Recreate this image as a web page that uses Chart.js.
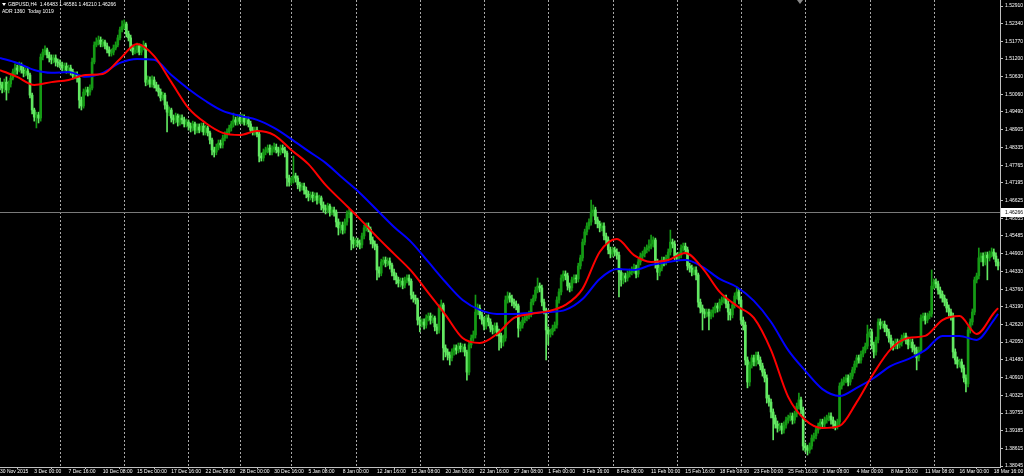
<!DOCTYPE html>
<html><head><meta charset="utf-8">
<script src="https://cdn.jsdelivr.net/npm/chart.js@4/dist/chart.umd.min.js"></script>
<style>
html,body{margin:0;padding:0;background:#000;overflow:hidden}
canvas{display:block}
</style></head><body>
<canvas id="c" width="1024" height="476"></canvas>
<script>
const symbolText = "GBPUSD,H4";
const headerOHLC = ["1.46483","1.46581","1.46210","1.46266"];
const adrText = "ADR 1360  Today 1019";
const lastPrice = 1.46266;

const timeLabels = ["30 Nov 2015","3 Dec 00:00","7 Dec 16:00","10 Dec 08:00","15 Dec 00:00","17 Dec 16:00","22 Dec 08:00","28 Dec 00:00","30 Dec 16:00","5 Jan 08:00","8 Jan 00:00","12 Jan 16:00","15 Jan 08:00","20 Jan 00:00","22 Jan 16:00","27 Jan 08:00","1 Feb 00:00","3 Feb 16:00","8 Feb 08:00","11 Feb 00:00","15 Feb 16:00","18 Feb 08:00","23 Feb 00:00","25 Feb 16:00","1 Mar 08:00","4 Mar 00:00","8 Mar 16:00","11 Mar 08:00","16 Mar 00:00","18 Mar 16:00"];
const timeTickBars = [0,16,32,48,64,80,96,112,128,144,160,176,192,208,224,240,256,272,288,304,320,336,352,368,384,400,416,432,448,464];
const weekStartBars = [28,58,88,112,136,166,196,226,256,286,316,346,376,406,436];
const priceTicks = [1.52910,1.52340,1.51770,1.51200,1.50630,1.50060,1.49490,1.48905,1.48335,1.47765,1.47195,1.46625,1.46055,1.45485,1.44900,1.44330,1.43760,1.43190,1.42620,1.42050,1.41480,1.40910,1.40325,1.39755,1.39185,1.38615,1.38045];

const opens = [
1.5045,1.5036,1.5026,1.5045,1.5020,1.5039,1.5058,1.5078,1.5091,1.5084,
1.5097,1.5084,1.5074,1.5081,1.5068,1.5003,1.4955,1.4932,1.4939,1.4929,
1.5126,1.5142,1.5149,1.5133,1.5123,1.5117,1.5123,1.5110,1.5107,1.5100,
1.5091,1.5097,1.5084,1.5091,1.5078,1.5065,1.5068,1.5058,1.4987,1.4968,
1.5013,1.5020,1.5013,1.5026,1.5110,1.5165,1.5175,1.5181,1.5168,1.5175,
1.5162,1.5149,1.5139,1.5142,1.5155,1.5165,1.5188,1.5214,1.5226,1.5233,
1.5201,1.5188,1.5155,1.5142,1.5149,1.5162,1.5142,1.5155,1.5165,1.5045,
1.5052,1.5039,1.5052,1.5036,1.5026,1.5013,1.4994,1.5003,1.4971,1.4948,
1.4955,1.4929,1.4923,1.4936,1.4916,1.4929,1.4923,1.4910,1.4916,1.4903,
1.4897,1.4910,1.4890,1.4900,1.4890,1.4903,1.4884,1.4897,1.4881,1.4858,
1.4826,1.4819,1.4835,1.4848,1.4842,1.4864,1.4874,1.4884,1.4897,1.4910,
1.4923,1.4916,1.4929,1.4919,1.4929,1.4916,1.4923,1.4910,1.4890,1.4884,
1.4890,1.4877,1.4806,1.4800,1.4819,1.4826,1.4832,1.4819,1.4829,1.4835,
1.4826,1.4819,1.4832,1.4826,1.4816,1.4735,1.4722,1.4729,1.4742,1.4735,
1.4713,1.4706,1.4709,1.4696,1.4683,1.4674,1.4680,1.4671,1.4677,1.4664,
1.4671,1.4648,1.4638,1.4632,1.4645,1.4625,1.4632,1.4625,1.4593,1.4574,
1.4583,1.4567,1.4593,1.4619,1.4622,1.4535,1.4522,1.4532,1.4525,1.4519,
1.4548,1.4574,1.4580,1.4570,1.4535,1.4522,1.4515,1.4438,1.4428,1.4464,
1.4470,1.4460,1.4467,1.4454,1.4431,1.4419,1.4406,1.4396,1.4402,1.4389,
1.4406,1.4412,1.4402,1.4357,1.4347,1.4341,1.4276,1.4263,1.4270,1.4260,
1.4283,1.4289,1.4276,1.4283,1.4254,1.4244,1.4315,1.4325,1.4186,1.4173,
1.4163,1.4154,1.4173,1.4186,1.4179,1.4192,1.4183,1.4189,1.4173,1.4108,
1.4196,1.4218,1.4228,1.4302,1.4315,1.4293,1.4276,1.4257,1.4283,1.4270,
1.4250,1.4244,1.4257,1.4238,1.4225,1.4205,1.4218,1.4341,1.4354,1.4347,
1.4334,1.4328,1.4322,1.4250,1.4260,1.4276,1.4283,1.4289,1.4296,1.4334,
1.4347,1.4373,1.4386,1.4380,1.4334,1.4309,1.4244,1.4231,1.4238,1.4250,
1.4260,1.4341,1.4367,1.4412,1.4425,1.4419,1.4386,1.4380,1.4406,1.4412,
1.4409,1.4451,1.4477,1.4528,1.4561,1.4580,1.4593,1.4625,1.4632,1.4600,
1.4587,1.4574,1.4580,1.4548,1.4535,1.4503,1.4490,1.4503,1.4496,1.4486,
1.4431,1.4406,1.4419,1.4412,1.4425,1.4431,1.4438,1.4444,1.4425,1.4464,
1.4483,1.4490,1.4503,1.4509,1.4515,1.4522,1.4535,1.4464,1.4431,1.4444,
1.4470,1.4464,1.4477,1.4496,1.4528,1.4522,1.4483,1.4477,1.4486,1.4509,
1.4515,1.4503,1.4451,1.4444,1.4431,1.4438,1.4422,1.4334,1.4315,1.4302,
1.4296,1.4302,1.4289,1.4299,1.4309,1.4322,1.4315,1.4334,1.4341,1.4347,
1.4328,1.4302,1.4293,1.4325,1.4354,1.4367,1.4341,1.4276,1.4260,1.4147,
1.4076,1.4131,1.4154,1.4141,1.4163,1.4147,1.4128,1.4108,1.4089,1.4024,
1.4011,1.3979,1.3960,1.3940,1.3927,1.3934,1.3921,1.3937,1.3953,1.3960,
1.3966,1.3953,1.3973,1.3998,1.4018,1.3986,1.3869,1.3863,1.3856,1.3869,
1.3895,1.3902,1.3921,1.3934,1.3947,1.3940,1.3953,1.3960,1.3966,1.3953,
1.3940,1.3934,1.3947,1.4063,1.4076,1.4082,1.4089,1.4076,1.4095,1.4115,
1.4134,1.4154,1.4147,1.4166,1.4179,1.4192,1.4231,1.4238,1.4196,1.4173,
1.4212,1.4270,1.4260,1.4263,1.4250,1.4238,1.4218,1.4199,1.4192,1.4205,
1.4196,1.4202,1.4218,1.4225,1.4212,1.4196,1.4205,1.4186,1.4179,1.4154,
1.4179,1.4283,1.4289,1.4276,1.4289,1.4296,1.4386,1.4399,1.4393,1.4373,
1.4360,1.4347,1.4334,1.4315,1.4302,1.4289,1.4173,1.4147,1.4134,1.4141,
1.4121,1.4089,1.4070,1.4244,1.4270,1.4302,1.4406,1.4419,1.4477,1.4483,
1.4464,1.4486,1.4477,1.4490,1.4496,1.4483,1.4464];

const closes = [
1.5036,1.5026,1.5045,1.5020,1.5039,1.5058,1.5078,1.5091,1.5084,1.5097,
1.5084,1.5074,1.5081,1.5068,1.5003,1.4955,1.4932,1.4939,1.4929,1.5126,
1.5142,1.5149,1.5133,1.5123,1.5117,1.5123,1.5110,1.5107,1.5100,1.5091,
1.5097,1.5084,1.5091,1.5078,1.5065,1.5068,1.5058,1.4987,1.4968,1.5013,
1.5020,1.5013,1.5026,1.5110,1.5165,1.5175,1.5181,1.5168,1.5175,1.5162,
1.5149,1.5139,1.5142,1.5155,1.5165,1.5188,1.5214,1.5226,1.5233,1.5201,
1.5188,1.5155,1.5142,1.5149,1.5162,1.5142,1.5155,1.5165,1.5045,1.5052,
1.5039,1.5052,1.5036,1.5026,1.5013,1.4994,1.5003,1.4971,1.4948,1.4955,
1.4929,1.4923,1.4936,1.4916,1.4929,1.4923,1.4910,1.4916,1.4903,1.4897,
1.4910,1.4890,1.4900,1.4890,1.4903,1.4884,1.4897,1.4881,1.4858,1.4826,
1.4819,1.4835,1.4848,1.4842,1.4864,1.4874,1.4884,1.4897,1.4910,1.4923,
1.4916,1.4929,1.4919,1.4929,1.4916,1.4923,1.4910,1.4890,1.4884,1.4890,
1.4877,1.4806,1.4800,1.4819,1.4826,1.4832,1.4819,1.4829,1.4835,1.4826,
1.4819,1.4832,1.4826,1.4816,1.4735,1.4722,1.4729,1.4742,1.4735,1.4713,
1.4706,1.4709,1.4696,1.4683,1.4674,1.4680,1.4671,1.4677,1.4664,1.4671,
1.4648,1.4638,1.4632,1.4645,1.4625,1.4632,1.4625,1.4593,1.4574,1.4583,
1.4567,1.4593,1.4619,1.4622,1.4535,1.4522,1.4532,1.4525,1.4519,1.4548,
1.4574,1.4580,1.4570,1.4535,1.4522,1.4515,1.4438,1.4428,1.4464,1.4470,
1.4460,1.4467,1.4454,1.4431,1.4419,1.4406,1.4396,1.4402,1.4389,1.4406,
1.4412,1.4402,1.4357,1.4347,1.4341,1.4276,1.4263,1.4270,1.4260,1.4283,
1.4289,1.4276,1.4283,1.4254,1.4244,1.4315,1.4325,1.4186,1.4173,1.4163,
1.4154,1.4173,1.4186,1.4179,1.4192,1.4183,1.4189,1.4173,1.4108,1.4196,
1.4218,1.4228,1.4302,1.4315,1.4293,1.4276,1.4257,1.4283,1.4270,1.4250,
1.4244,1.4257,1.4238,1.4225,1.4205,1.4218,1.4341,1.4354,1.4347,1.4334,
1.4328,1.4322,1.4250,1.4260,1.4276,1.4283,1.4289,1.4296,1.4334,1.4347,
1.4373,1.4386,1.4380,1.4334,1.4309,1.4244,1.4231,1.4238,1.4250,1.4260,
1.4341,1.4367,1.4412,1.4425,1.4419,1.4386,1.4380,1.4406,1.4412,1.4409,
1.4451,1.4477,1.4528,1.4561,1.4580,1.4593,1.4625,1.4632,1.4600,1.4587,
1.4574,1.4580,1.4548,1.4535,1.4503,1.4490,1.4503,1.4496,1.4486,1.4431,
1.4406,1.4419,1.4412,1.4425,1.4431,1.4438,1.4444,1.4425,1.4464,1.4483,
1.4490,1.4503,1.4509,1.4515,1.4522,1.4535,1.4464,1.4431,1.4444,1.4470,
1.4464,1.4477,1.4496,1.4528,1.4522,1.4483,1.4477,1.4486,1.4509,1.4515,
1.4503,1.4451,1.4444,1.4431,1.4438,1.4422,1.4334,1.4315,1.4302,1.4296,
1.4302,1.4289,1.4299,1.4309,1.4322,1.4315,1.4334,1.4341,1.4347,1.4328,
1.4302,1.4293,1.4325,1.4354,1.4367,1.4341,1.4276,1.4260,1.4147,1.4076,
1.4131,1.4154,1.4141,1.4163,1.4147,1.4128,1.4108,1.4089,1.4024,1.4011,
1.3979,1.3960,1.3940,1.3927,1.3934,1.3921,1.3937,1.3953,1.3960,1.3966,
1.3953,1.3973,1.3998,1.4018,1.3986,1.3869,1.3863,1.3856,1.3869,1.3895,
1.3902,1.3921,1.3934,1.3947,1.3940,1.3953,1.3960,1.3966,1.3953,1.3940,
1.3934,1.3947,1.4063,1.4076,1.4082,1.4089,1.4076,1.4095,1.4115,1.4134,
1.4154,1.4147,1.4166,1.4179,1.4192,1.4231,1.4238,1.4196,1.4173,1.4212,
1.4270,1.4260,1.4263,1.4250,1.4238,1.4218,1.4199,1.4192,1.4205,1.4196,
1.4202,1.4218,1.4225,1.4212,1.4196,1.4205,1.4186,1.4179,1.4154,1.4179,
1.4283,1.4289,1.4276,1.4289,1.4296,1.4386,1.4399,1.4393,1.4373,1.4360,
1.4347,1.4334,1.4315,1.4302,1.4289,1.4173,1.4147,1.4134,1.4141,1.4121,
1.4089,1.4070,1.4244,1.4270,1.4302,1.4406,1.4419,1.4477,1.4483,1.4464,
1.4486,1.4477,1.4490,1.4496,1.4483,1.4464,1.4451];

const highs = [
1.5058,1.5045,1.5055,1.5062,1.5049,1.5071,1.5087,1.5104,1.5100,1.5110,
1.5107,1.5094,1.5091,1.5091,1.5074,1.5010,1.4961,1.4948,1.4948,1.5136,
1.5152,1.5162,1.5155,1.5142,1.5133,1.5133,1.5133,1.5120,1.5117,1.5110,
1.5107,1.5107,1.5100,1.5100,1.5087,1.5078,1.5078,1.5065,1.4997,1.5023,
1.5029,1.5029,1.5036,1.5123,1.5175,1.5188,1.5194,1.5191,1.5184,1.5181,
1.5171,1.5159,1.5152,1.5165,1.5175,1.5197,1.5223,1.5243,1.5246,1.5239,
1.5210,1.5197,1.5165,1.5162,1.5171,1.5168,1.5165,1.5178,1.5171,1.5065,
1.5062,1.5065,1.5062,1.5045,1.5036,1.5023,1.5013,1.5010,1.4981,1.4965,
1.4961,1.4939,1.4945,1.4942,1.4939,1.4939,1.4932,1.4926,1.4923,1.4913,
1.4919,1.4916,1.4910,1.4910,1.4913,1.4913,1.4906,1.4903,1.4887,1.4864,
1.4835,1.4845,1.4858,1.4858,1.4874,1.4884,1.4894,1.4906,1.4919,1.4945,
1.4932,1.4939,1.4939,1.4942,1.4939,1.4932,1.4932,1.4919,1.4900,1.4900,
1.4900,1.4884,1.4816,1.4829,1.4835,1.4842,1.4842,1.4839,1.4848,1.4845,
1.4835,1.4842,1.4842,1.4835,1.4822,1.4745,1.4739,1.4806,1.4751,1.4742,
1.4722,1.4719,1.4719,1.4706,1.4693,1.4690,1.4690,1.4687,1.4687,1.4680,
1.4677,1.4658,1.4648,1.4654,1.4651,1.4641,1.4641,1.4632,1.4603,1.4593,
1.4593,1.4603,1.4629,1.4635,1.4629,1.4545,1.4541,1.4541,1.4535,1.4557,
1.4583,1.4590,1.4590,1.4577,1.4545,1.4532,1.4522,1.4448,1.4473,1.4480,
1.4480,1.4477,1.4477,1.4460,1.4441,1.4428,1.4415,1.4412,1.4412,1.4415,
1.4422,1.4422,1.4409,1.4367,1.4357,1.4347,1.4286,1.4280,1.4280,1.4293,
1.4299,1.4299,1.4293,1.4289,1.4263,1.4325,1.4341,1.4331,1.4196,1.4183,
1.4173,1.4183,1.4196,1.4196,1.4202,1.4202,1.4199,1.4199,1.4179,1.4205,
1.4228,1.4241,1.4357,1.4328,1.4325,1.4302,1.4286,1.4293,1.4293,1.4280,
1.4260,1.4267,1.4267,1.4247,1.4234,1.4228,1.4354,1.4367,1.4364,1.4357,
1.4344,1.4338,1.4328,1.4270,1.4286,1.4293,1.4299,1.4305,1.4344,1.4357,
1.4383,1.4412,1.4396,1.4389,1.4344,1.4315,1.4254,1.4247,1.4260,1.4270,
1.4351,1.4377,1.4422,1.4435,1.4435,1.4428,1.4396,1.4415,1.4422,1.4422,
1.4460,1.4486,1.4538,1.4570,1.4590,1.4603,1.4664,1.4648,1.4641,1.4609,
1.4596,1.4590,1.4590,1.4557,1.4545,1.4512,1.4512,1.4512,1.4506,1.4496,
1.4441,1.4428,1.4428,1.4435,1.4441,1.4448,1.4457,1.4454,1.4473,1.4493,
1.4499,1.4512,1.4519,1.4535,1.4551,1.4545,1.4541,1.4473,1.4454,1.4480,
1.4480,1.4486,1.4506,1.4567,1.4538,1.4532,1.4493,1.4496,1.4519,1.4525,
1.4525,1.4512,1.4460,1.4454,1.4448,1.4448,1.4428,1.4344,1.4325,1.4312,
1.4312,1.4312,1.4309,1.4318,1.4331,1.4331,1.4344,1.4351,1.4357,1.4357,
1.4338,1.4312,1.4334,1.4364,1.4383,1.4377,1.4351,1.4286,1.4270,1.4157,
1.4141,1.4163,1.4163,1.4173,1.4173,1.4157,1.4137,1.4118,1.4099,1.4034,
1.4021,1.3989,1.3969,1.3950,1.3943,1.3943,1.3947,1.3963,1.3969,1.3976,
1.3976,1.3982,1.4008,1.4040,1.4027,1.3995,1.3879,1.3872,1.3879,1.3905,
1.3911,1.3931,1.3943,1.3956,1.3956,1.3963,1.3969,1.3976,1.3976,1.3963,
1.3950,1.3956,1.4073,1.4086,1.4092,1.4099,1.4099,1.4105,1.4124,1.4144,
1.4163,1.4163,1.4176,1.4189,1.4202,1.4260,1.4247,1.4247,1.4205,1.4221,
1.4280,1.4280,1.4273,1.4273,1.4260,1.4247,1.4228,1.4208,1.4215,1.4215,
1.4212,1.4228,1.4234,1.4234,1.4221,1.4215,1.4215,1.4196,1.4189,1.4189,
1.4293,1.4299,1.4299,1.4299,1.4305,1.4438,1.4409,1.4409,1.4402,1.4383,
1.4370,1.4357,1.4344,1.4325,1.4312,1.4299,1.4183,1.4157,1.4150,1.4150,
1.4131,1.4099,1.4254,1.4280,1.4312,1.4415,1.4428,1.4509,1.4493,1.4493,
1.4496,1.4496,1.4499,1.4509,1.4506,1.4493,1.4473];

const lows = [
1.5020,1.5010,1.5013,1.4987,1.5010,1.5029,1.5052,1.5068,1.5071,1.5078,
1.5074,1.5062,1.5065,1.5055,1.4994,1.4942,1.4919,1.4897,1.4913,1.4919,
1.5117,1.5133,1.5123,1.5110,1.5104,1.5107,1.5097,1.5094,1.5091,1.5081,
1.5081,1.5074,1.5074,1.5068,1.5055,1.5055,1.5045,1.4961,1.4955,1.4961,
1.5003,1.5000,1.5003,1.5020,1.5104,1.5159,1.5165,1.5159,1.5159,1.5152,
1.5139,1.5129,1.5129,1.5133,1.5149,1.5159,1.5181,1.5207,1.5217,1.5191,
1.5178,1.5146,1.5133,1.5136,1.5139,1.5133,1.5133,1.5149,1.5033,1.5036,
1.5029,1.5029,1.5026,1.5016,1.5000,1.4984,1.4987,1.4958,1.4884,1.4936,
1.4916,1.4910,1.4913,1.4903,1.4906,1.4910,1.4900,1.4900,1.4890,1.4884,
1.4887,1.4877,1.4881,1.4881,1.4884,1.4874,1.4874,1.4871,1.4845,1.4810,
1.4803,1.4810,1.4826,1.4832,1.4832,1.4855,1.4864,1.4877,1.4887,1.4900,
1.4906,1.4906,1.4910,1.4910,1.4906,1.4906,1.4900,1.4881,1.4874,1.4874,
1.4868,1.4787,1.4790,1.4790,1.4810,1.4816,1.4810,1.4810,1.4819,1.4816,
1.4806,1.4810,1.4816,1.4803,1.4709,1.4709,1.4713,1.4719,1.4722,1.4700,
1.4693,1.4696,1.4683,1.4671,1.4661,1.4664,1.4658,1.4661,1.4651,1.4654,
1.4632,1.4625,1.4619,1.4622,1.4612,1.4616,1.4612,1.4577,1.4551,1.4557,
1.4554,1.4557,1.4583,1.4606,1.4503,1.4509,1.4512,1.4512,1.4506,1.4509,
1.4538,1.4564,1.4561,1.4522,1.4509,1.4503,1.4406,1.4415,1.4419,1.4454,
1.4448,1.4451,1.4441,1.4419,1.4406,1.4393,1.4383,1.4383,1.4377,1.4380,
1.4396,1.4389,1.4344,1.4334,1.4328,1.4260,1.4238,1.4254,1.4247,1.4250,
1.4273,1.4263,1.4267,1.4241,1.4231,1.4234,1.4305,1.4147,1.4157,1.4147,
1.4131,1.4144,1.4163,1.4166,1.4170,1.4173,1.4173,1.4160,1.4082,1.4099,
1.4186,1.4208,1.4218,1.4293,1.4280,1.4263,1.4244,1.4247,1.4257,1.4238,
1.4231,1.4234,1.4225,1.4179,1.4186,1.4192,1.4208,1.4331,1.4334,1.4322,
1.4315,1.4309,1.4221,1.4241,1.4250,1.4267,1.4273,1.4280,1.4286,1.4325,
1.4338,1.4364,1.4367,1.4322,1.4296,1.4147,1.4196,1.4221,1.4228,1.4241,
1.4250,1.4331,1.4357,1.4402,1.4406,1.4373,1.4367,1.4370,1.4396,1.4396,
1.4399,1.4441,1.4467,1.4519,1.4551,1.4570,1.4583,1.4612,1.4587,1.4574,
1.4561,1.4564,1.4535,1.4522,1.4490,1.4477,1.4480,1.4483,1.4473,1.4351,
1.4386,1.4393,1.4399,1.4402,1.4415,1.4422,1.4428,1.4412,1.4415,1.4454,
1.4473,1.4480,1.4493,1.4499,1.4506,1.4512,1.4444,1.4406,1.4419,1.4435,
1.4451,1.4454,1.4467,1.4486,1.4509,1.4470,1.4464,1.4467,1.4477,1.4499,
1.4490,1.4438,1.4431,1.4419,1.4422,1.4406,1.4318,1.4299,1.4244,1.4283,
1.4286,1.4244,1.4280,1.4286,1.4299,1.4302,1.4305,1.4325,1.4331,1.4315,
1.4276,1.4276,1.4283,1.4315,1.4344,1.4328,1.4263,1.4244,1.4131,1.4057,
1.4063,1.4121,1.4128,1.4128,1.4134,1.4115,1.4095,1.4076,1.4008,1.3998,
1.3960,1.3889,1.3927,1.3914,1.3918,1.3908,1.3911,1.3927,1.3943,1.3950,
1.3940,1.3943,1.3963,1.3989,1.3973,1.3856,1.3850,1.3840,1.3846,1.3859,
1.3885,1.3892,1.3911,1.3924,1.3927,1.3931,1.3943,1.3950,1.3940,1.3927,
1.3921,1.3924,1.3937,1.4053,1.4066,1.4073,1.4063,1.4066,1.4086,1.4105,
1.4124,1.4137,1.4137,1.4157,1.4170,1.4183,1.4221,1.4183,1.4154,1.4163,
1.4202,1.4247,1.4250,1.4238,1.4225,1.4205,1.4186,1.4179,1.4183,1.4183,
1.4186,1.4192,1.4208,1.4199,1.4183,1.4186,1.4173,1.4166,1.4115,1.4144,
1.4170,1.4273,1.4263,1.4267,1.4280,1.4286,1.4377,1.4380,1.4360,1.4347,
1.4334,1.4322,1.4302,1.4289,1.4276,1.4154,1.4134,1.4121,1.4124,1.4108,
1.4076,1.4044,1.4060,1.4234,1.4260,1.4293,1.4396,1.4409,1.4464,1.4451,
1.4454,1.4406,1.4467,1.4480,1.4473,1.4451,1.4438];

const maBars = [0,8,16,24,32,40,48,56,64,72,80,88,96,104,112,120,128,136,144,152,160,168,176,184,192,200,208,216,224,232,240,248,256,264,272,280,288,296,304,312,320,328,336,344,352,360,368,376,384,392,400,408,416,424,432,440,448,456,464,466];
const maFast = [1.5084,1.5062,1.5036,1.5045,1.5052,1.5068,1.5071,1.5120,1.5168,1.5129,1.5045,1.4961,1.4913,1.4881,1.4874,1.4887,1.4874,1.4826,1.4780,1.4713,1.4658,1.4603,1.4545,1.4490,1.4435,1.4364,1.4293,1.4218,1.4202,1.4231,1.4283,1.4296,1.4305,1.4325,1.4377,1.4496,1.4538,1.4486,1.4464,1.4470,1.4493,1.4444,1.4367,1.4322,1.4283,1.4179,1.4028,1.3953,1.3927,1.3934,1.4011,1.4105,1.4183,1.4218,1.4225,1.4276,1.4289,1.4231,1.4299,1.4315];
const maSlow = [1.5123,1.5107,1.5084,1.5075,1.5078,1.5062,1.5075,1.5107,1.5120,1.5117,1.5068,1.5023,1.4984,1.4952,1.4936,1.4923,1.4897,1.4861,1.4822,1.4784,1.4735,1.4687,1.4632,1.4577,1.4528,1.4464,1.4399,1.4341,1.4309,1.4296,1.4296,1.4299,1.4302,1.4309,1.4344,1.4409,1.4441,1.4438,1.4454,1.4464,1.4470,1.4448,1.4409,1.4383,1.4338,1.4270,1.4179,1.4112,1.4053,1.4031,1.4057,1.4089,1.4128,1.4150,1.4179,1.4225,1.4225,1.4212,1.4276,1.4296];

const BULL = '#159a15', BEAR = '#62e862';
const FONT = '"Liberation Sans", Arial, sans-serif';

const bodyData = closes.map((c, i) => ({x: i, y: [opens[i], c]}));
const wickData = closes.map((c, i) => ({x: i, y: [lows[i], highs[i]]}));
const candleColors = closes.map((c, i) => c >= opens[i] ? BULL : BEAR);

const bgPlugin = {id:'bg', beforeDraw(c){const x=c.ctx; x.save(); x.fillStyle='#000'; x.fillRect(0,0,c.width,c.height); x.restore();}};
const gridPlugin = {id:'weekGrid', beforeDatasetsDraw(c){
  const ctx=c.ctx, a=c.chartArea, xs=c.scales.x, ys=c.scales.y;
  ctx.save();
  ctx.strokeStyle='#a8a8a8'; ctx.lineWidth=1; ctx.setLineDash([2,2]);
  weekStartBars.forEach(b=>{const px=Math.round(xs.getPixelForValue(b))+0.5; ctx.beginPath(); ctx.moveTo(px,a.top); ctx.lineTo(px,a.bottom); ctx.stroke();});
  ctx.setLineDash([]); ctx.strokeStyle='#7a7a7a';
  const py=Math.round(ys.getPixelForValue(lastPrice))+0.5;
  ctx.beginPath(); ctx.moveTo(a.left,py); ctx.lineTo(a.right,py); ctx.stroke();
  ctx.restore();
}};
const overlayPlugin = {id:'overlay', afterDraw(c){
  const ctx=c.ctx, a=c.chartArea, ys=c.scales.y;
  ctx.save();
  const py=Math.round(ys.getPixelForValue(lastPrice));
  ctx.fillStyle='#ffffff'; ctx.fillRect(a.right+1, py-4, 23, 9);
  ctx.fillStyle='#000000'; ctx.font='5px '+FONT; ctx.textBaseline='middle'; ctx.textAlign='left';
  ctx.fillText(lastPrice.toFixed(5), a.right+5, py+0.5);
  // header
  ctx.fillStyle='#ffffff';
  ctx.beginPath(); ctx.moveTo(2,3); ctx.lineTo(6,3); ctx.lineTo(4,6); ctx.closePath(); ctx.fill();
  ctx.fillText(symbolText+'  '+headerOHLC.join(' '), 8, 5);
  ctx.fillText(adrText, 2, 11.5);
  // chart shift marker
  ctx.fillStyle='#8a8a8a';
  ctx.beginPath(); ctx.moveTo(797,0); ctx.lineTo(803,0); ctx.lineTo(800,4); ctx.closePath(); ctx.fill();
  ctx.restore();
}};

new Chart(document.getElementById('c').getContext('2d'), {
  type: 'bar',
  data: { datasets: [
    {type:'line', label:'MA fast', data: maBars.map((b,k)=>({x:b, y:maFast[k]})), borderColor:'#ff0000', borderWidth:2, pointRadius:0, cubicInterpolationMode:'monotone', order:0},
    {type:'line', label:'MA slow', data: maBars.map((b,k)=>({x:b, y:maSlow[k]})), borderColor:'#0000ff', borderWidth:2, pointRadius:0, cubicInterpolationMode:'monotone', order:0},
    {type:'bar', label:'body', data: bodyData, backgroundColor: candleColors, borderWidth:0, barThickness:2, minBarLength:1, grouped:false, order:1},
    {type:'bar', label:'wick', data: wickData, backgroundColor: candleColors, borderWidth:0, barThickness:1, grouped:false, order:2}
  ]},
  options: {
    responsive:false, animation:false, devicePixelRatio:1,
    layout:{padding:0, autoPadding:false},
    plugins:{legend:{display:false}, tooltip:{enabled:false}},
    scales:{
      x:{type:'linear', min:0, max:466.9, offset:false,
        grid:{display:true, drawOnChartArea:false, drawTicks:true, tickLength:2, color:'#bfbfbf'},
        border:{display:true, color:'#bfbfbf'},
        ticks:{autoSkip:false, maxRotation:0, minRotation:0, align:'start', padding:0, color:'#ffffff', font:{size:5, family:FONT},
          callback:(v,i)=>timeLabels[i]},
        afterBuildTicks:s=>{s.ticks=timeTickBars.map(v=>({value:v}));},
        afterFit:s=>{s.height=9; s.paddingLeft=0; s.paddingRight=0;}
      },
      y:{type:'linear', position:'right', min:1.38013, max:1.53104,
        grid:{display:true, drawOnChartArea:false, drawTicks:true, tickLength:3, color:'#bfbfbf'},
        border:{display:true, color:'#bfbfbf'},
        ticks:{autoSkip:false, padding:2, color:'#ffffff', font:{size:5, family:FONT},
          callback:v=>Number(v).toFixed(5)},
        afterBuildTicks:s=>{s.ticks=priceTicks.map(v=>({value:v}));},
        afterFit:s=>{s.width=24; s.paddingTop=0; s.paddingBottom=0;}
      }
    }
  },
  plugins:[bgPlugin, gridPlugin, overlayPlugin]
});
</script>
</body></html>
